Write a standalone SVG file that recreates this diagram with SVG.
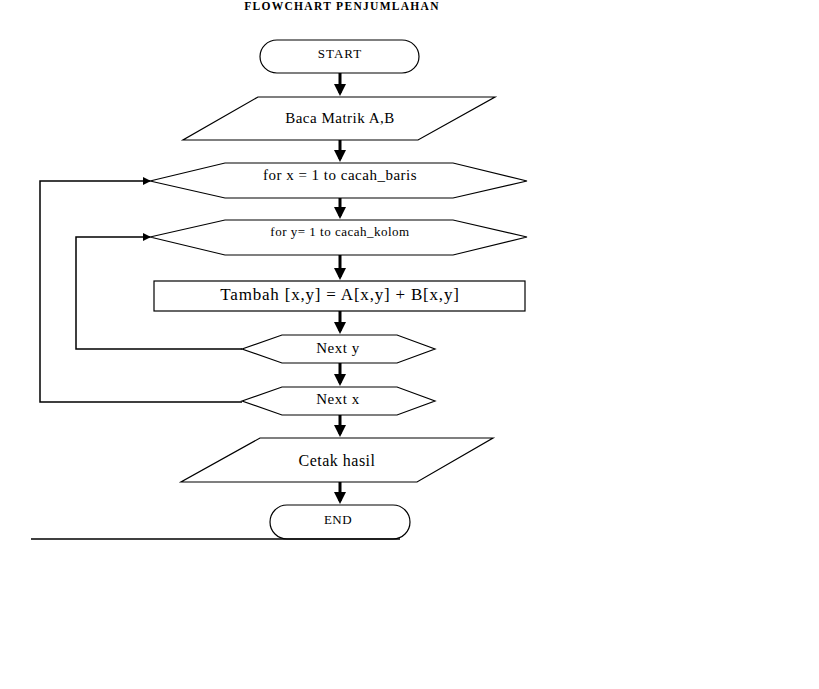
<svg xmlns="http://www.w3.org/2000/svg" width="819" height="689" viewBox="0 0 819 689">
<style>
.s{fill:#fff;stroke:#000;stroke-width:1.2}
.t{font-family:"Liberation Serif",serif;font-size:15px;text-anchor:middle;fill:#000;letter-spacing:0.5px}
.c{fill:none;stroke:#000;stroke-width:1.5}
.a{fill:none;stroke:#000;stroke-width:3}
</style>
<defs><marker id="m" markerWidth="4" markerHeight="4" refX="3" refY="2" orient="auto" markerUnits="strokeWidth"><path d="M0,0L4,2L0,4z" fill="#000"/></marker>
<marker id="m2" markerWidth="8" markerHeight="8" refX="7" refY="4" orient="auto" markerUnits="userSpaceOnUse"><path d="M0,0L8,4L0,8z" fill="#000"/></marker></defs>
<rect width="819" height="689" fill="#fff"/>
<text x="342" y="10" class="t" style="font-size:11.5px;font-weight:bold;letter-spacing:1.3px">FLOWCHART PENJUMLAHAN</text>
<g id="start"><rect class="s" x="260" y="40" width="159" height="33" rx="17"/><text class="t" x="340" y="58" style="font-size:13px;letter-spacing:1px">START</text></g>
<g id="baca"><polygon class="s" points="258,97 495,97 418,140 183,140"/><text class="t" x="340" y="123">Baca Matrik A,B</text></g>
<g id="forx"><polygon class="s" points="150,181 225,163 453,163 527,181 453,198 225,198"/><text class="t" x="340" y="180">for x = 1 to cacah_baris</text></g>
<g id="fory"><polygon class="s" points="150,237 225,220 453,220 527,237 453,255 225,255"/><text class="t" x="340" y="236" style="font-size:13px">for y= 1 to cacah_kolom</text></g>
<g id="tambah"><rect class="s" x="154" y="281" width="371" height="30"/><text class="t" x="340" y="300" style="font-size:17px;letter-spacing:0.8px">Tambah [x,y] = A[x,y] + B[x,y]</text></g>
<g id="nexty"><polygon class="s" points="242,349 282,335 397,335 435,349 397,363 282,363"/><text class="t" x="338" y="353">Next y</text></g>
<g id="nextx"><polygon class="s" points="242,401 282,387 397,387 435,401 397,415 282,415"/><text class="t" x="338" y="404">Next x</text></g>
<g id="cetak"><polygon class="s" points="260,438 493,438 417,482 181,482"/><text class="t" x="337" y="466" style="font-size:16px">Cetak hasil</text></g>
<g id="end"><rect class="s" x="270" y="505" width="140" height="34" rx="17"/><text class="t" x="338" y="524" style="font-size:13px">END</text></g>
<g id="connectors">
<line class="a" x1="340" y1="73" x2="340" y2="93" marker-end="url(#m)"/>
<line class="a" x1="340" y1="140" x2="340" y2="159" marker-end="url(#m)"/>
<line class="a" x1="340" y1="198" x2="340" y2="216" marker-end="url(#m)"/>
<line class="a" x1="340" y1="255" x2="340" y2="277" marker-end="url(#m)"/>
<line class="a" x1="340" y1="311" x2="340" y2="331" marker-end="url(#m)"/>
<line class="a" x1="340" y1="363" x2="340" y2="383" marker-end="url(#m)"/>
<line class="a" x1="340" y1="415" x2="340" y2="434" marker-end="url(#m)"/>
<line class="a" x1="340" y1="482" x2="340" y2="501" marker-end="url(#m)"/>
<polyline class="c" points="242,349 76,349 76,237 150,237" marker-end="url(#m2)"/>
<polyline class="c" points="242,402 40,402 40,181 150,181" marker-end="url(#m2)"/>
<line class="c" x1="31" y1="539" x2="400" y2="539"/>
</g>
</svg>
